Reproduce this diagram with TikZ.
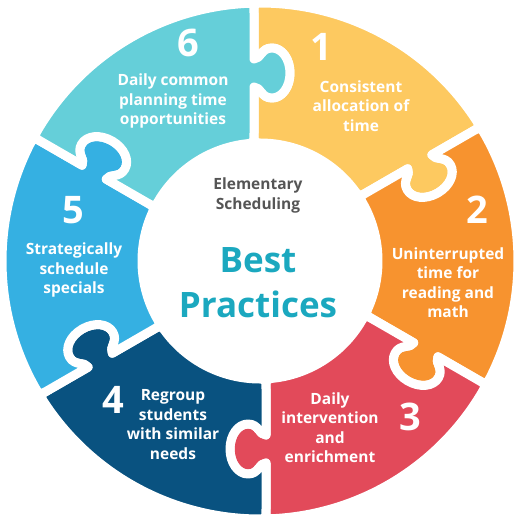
\documentclass[tikz,border=0pt]{standalone}
\usepackage{fontspec}
\setmainfont{Open Sans}
\usepackage{xcolor}
\usepackage{tikz}
\usetikzlibrary{calc,positioning}

\definecolor{pieceyellow}{RGB}{253,201,96}
\definecolor{pieceorange}{RGB}{247,147,47}
\definecolor{piecered}{RGB}{226,74,90}
\definecolor{piecenavy}{RGB}{9,82,128}
\definecolor{pieceblue}{RGB}{53,176,226}
\definecolor{piececyan}{RGB}{101,207,217}
\definecolor{titleteal}{RGB}{27,168,191}
\definecolor{subgray}{RGB}{85,85,85}

\begin{document}
\begin{tikzpicture}[
	%	style def
    x=1pt, y=1pt,
    piece/.style={draw=white, line width=9pt, line join=round},
    % cut with knob, inner to outer, then round into the outer arc
    tab out/.style={insert path={
        -- ([rotate=#1]174pt,6pt)
        .. controls ([rotate=#1]174pt,-1pt) and ([rotate=#1]163pt,-1pt) .. ([rotate=#1]163pt,-12pt)
        .. controls ([rotate=#1]163pt,-22pt) and ([rotate=#1]174pt,-30pt) .. ([rotate=#1]188pt,-30pt)
        .. controls ([rotate=#1]202pt,-30pt) and ([rotate=#1]213pt,-22pt) .. ([rotate=#1]213pt,-12pt)
        .. controls ([rotate=#1]213pt,-1pt) and ([rotate=#1]202pt,-1pt) .. ([rotate=#1]202pt,6pt)
        -- ([rotate=#1]248pt,6pt)
        .. controls ([rotate=#1]258pt,6pt) .. ({#1+3.55}:258pt)}},
    % cut with hole, outer to inner, then round into the inner arc
    tab in/.style={insert path={
        .. controls ([rotate=#1]258pt,6pt) .. ([rotate=#1]248pt,6pt)
        -- ([rotate=#1]202pt,6pt)
        .. controls ([rotate=#1]202pt,-1pt) and ([rotate=#1]213pt,-1pt) .. ([rotate=#1]213pt,-12pt)
        .. controls ([rotate=#1]213pt,-22pt) and ([rotate=#1]202pt,-30pt) .. ([rotate=#1]188pt,-30pt)
        .. controls ([rotate=#1]174pt,-30pt) and ([rotate=#1]163pt,-22pt) .. ([rotate=#1]163pt,-12pt)
        .. controls ([rotate=#1]163pt,-1pt) and ([rotate=#1]174pt,-1pt) .. ([rotate=#1]174pt,6pt)
        -- ([rotate=#1]128pt,6pt)
        .. controls ([rotate=#1]118pt,6pt) .. ({#1-1.95}:118pt)}},
    close in/.style={insert path={
        .. controls ([rotate=#1]118pt,6pt) .. ([rotate=#1]128pt,6pt) -- cycle}},
    num/.style={text=white, font=\bfseries\fontsize{38}{38}\selectfont},
    step label/.style={text=white, align=center, font=\bfseries\fontsize{15.5}{19.5}\selectfont},
    every node/.style={inner sep=0pt}
    ]

    \useasboundingbox (-260,-259) rectangle (267,261);

	% puzzle ring, one piece per step
    \path[piece, fill=pieceyellow] ([rotate=30]128pt,6pt) [tab out=30]
        arc[start angle=33.55, end angle=89.11, radius=258pt] [tab in=90]
        arc[start angle=88.05, end angle=37.77, radius=118pt] [close in=30];
    \path[piece, fill=pieceorange] ([rotate=-30]128pt,6pt) [tab out=-30]
        arc[start angle=-26.45, end angle=29.11, radius=258pt] [tab in=30]
        arc[start angle=28.05, end angle=-22.23, radius=118pt] [close in=-30];
    \path[piece, fill=piecered] ([rotate=-90]128pt,6pt) [tab out=-90]
        arc[start angle=-86.45, end angle=-30.89, radius=258pt] [tab in=-30]
        arc[start angle=-31.95, end angle=-82.23, radius=118pt] [close in=-90];
    \path[piece, fill=piecenavy] ([rotate=-150]128pt,6pt) [tab out=-150]
        arc[start angle=-146.45, end angle=-90.89, radius=258pt] [tab in=-90]
        arc[start angle=-91.95, end angle=-142.23, radius=118pt] [close in=-150];
    \path[piece, fill=pieceblue] ([rotate=150]128pt,6pt) [tab out=150]
        arc[start angle=153.55, end angle=209.11, radius=258pt] [tab in=210]
        arc[start angle=208.05, end angle=157.77, radius=118pt] [close in=150];
    \path[piece, fill=piececyan] ([rotate=90]128pt,6pt) [tab out=90]
        arc[start angle=93.55, end angle=149.11, radius=258pt] [tab in=150]
        arc[start angle=148.05, end angle=97.77, radius=118pt] [close in=90];

    % step numbers and texts
    \node[num] (n1) at (61,214) {1};
    \node[step label] (s1) at (101,155) {Consistent\\allocation of\\time};
    \node[num] (n2) at (217,51) {2};
    \node[step label] (s2) at (188,-21.5) {Uninterrupted\\time for\\reading and\\math};
    \node[num] (n3) at (150,-156) {3};
    \node[step label] (s3) at (70,-166.5) {Daily\\intervention\\and\\enrichment};
    \node[num] (n4) at (-147,-139) {4};
    \node[step label] (s4) at (-87,-163.5) {Regroup\\students\\with similar\\needs};
    \node[num] (n5) at (-187,51) {5};
    \node[step label] (s5) at (-186,-9) {Strategically\\schedule\\specials};
    \node[num] (n6) at (-72,218) {6};
    \node[step label] (s6) at (-87,160) {Daily common\\planning time\\opportunities};

    % centre title
    \node[text=subgray, align=center, font=\bfseries\fontsize{15.5}{20}\selectfont] (sub) at (-2,65.5) {Elementary\\Scheduling};
    \node[text=titleteal, align=center, font=\bfseries\fontsize{35}{45}\selectfont] (title) at (-2,-22) {Best\\Practices};

\end{tikzpicture}
\end{document}
